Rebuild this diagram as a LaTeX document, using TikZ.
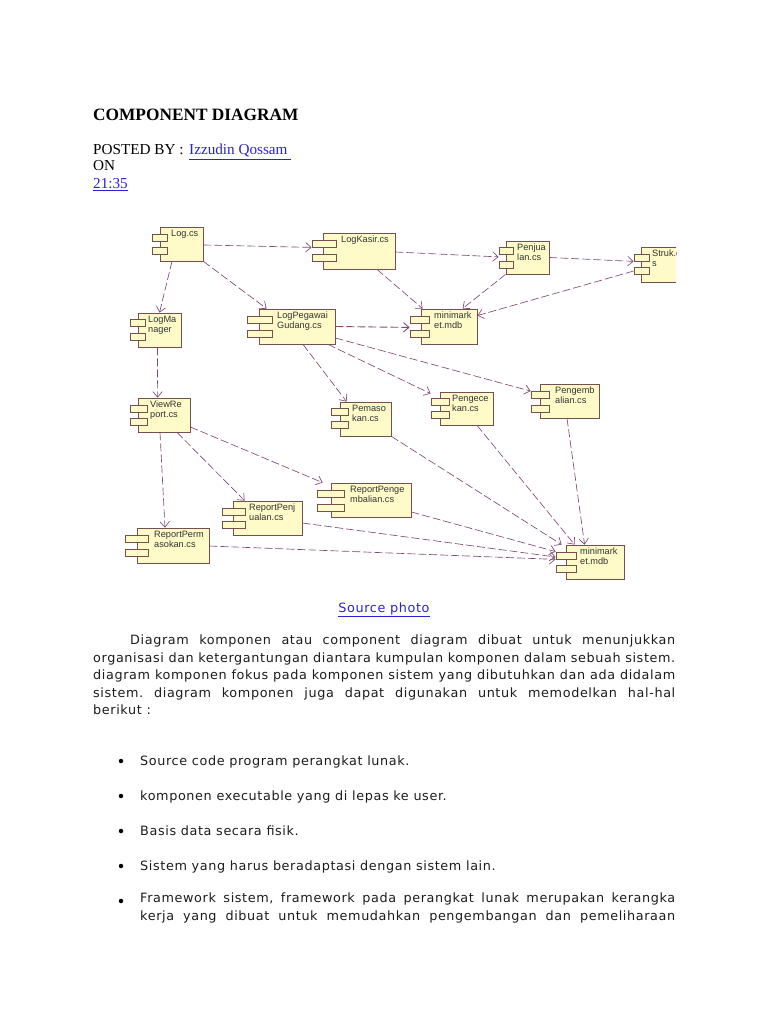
\documentclass[tikz,border=0pt]{standalone}
\usepackage{fontspec}
\setmainfont{Liberation Serif}
\newfontfamily\bodyfont[LetterSpace=4.8]{DejaVu Sans}
\newfontfamily\labelfont{Liberation Sans}
\usetikzlibrary{arrows.meta,positioning}
\definecolor{CompFill}{HTML}{FFFBC9}
\definecolor{CompLine}{HTML}{76504F}
\definecolor{DepLine}{HTML}{7E4A72}
\definecolor{LinkBlue}{HTML}{2A22D8}
\definecolor{BodyText}{HTML}{1C1C1C}
\begin{document}
\begin{tikzpicture}[x=1pt,y=-1pt,
  comp/.style={draw=CompLine,fill=CompFill,line width=0.8pt,inner sep=0pt},
  tab/.style={comp,minimum height=7pt},
  complabel/.style={anchor=north west,inner sep=0pt,align=left,text=black!80,font=\labelfont\fontsize{9.2}{10.5}\selectfont},
  dep/.style={-{Straight Barb[length=5.5pt,width=9.5pt]},line width=0.65pt,color=DepLine,dash pattern=on 8pt off 3pt},
  heading/.style={anchor=base west,inner sep=0pt,font=\fontsize{15.2}{16}\selectfont},
  link/.style={heading,text=LinkBlue},
  bodytxt/.style={anchor=north west,inner sep=0pt,text width=582pt,align=justify,text=BodyText,font=\bodyfont\fontsize{12.8}{17.5}\selectfont\frenchspacing},
  dot/.style={circle,fill=black,inner sep=0pt,minimum size=4.5pt}
]
\useasboundingbox (0,0) rectangle (768,1024);
% page header
\node[heading,font=\bfseries\fontsize{17.3}{18}\selectfont] (title) at (93,121) {COMPONENT DIAGRAM};
\node[heading] (posted) at (93,155) {POSTED BY :};
\node[link] (author) at (189,155) {\underline{Izzudin Qossam\ }};
\node[heading] (on) at (93,171) {ON};
\node[link] (time) at (93,189) {\underline{21:35}};
% components
\begin{scope}
\clip (0,200) rectangle (676,590);
\foreach \nm/\xa/\ya/\xb/\yb/\xt/\wt/\ta/\tb/\xl/\txt in {
  logcs/160/227/203/261/152/15/237.5/251/171/{Log.cs},
  logkasir/323/233/395/269/312/24/243.5/257.5/341/{LogKasir.cs},
  logman/138/313/181/347/130/15/323/336.5/148/{LogMa\\nager},
  logpeg/259/309/335/344/247/25/319.5/333.5/277/{LogPegawai\\Gudang.cs},
  mma/421/309/477/344/410/19/319.5/333.5/434/{minimark\\et.mdb},
  penj/506/241/549/274/499/14/251/265/517/{Penjua\\lan.cs},
  struk/641/247/690/282/634/15/257.5/271/652/{Struk.c\\s},
  view/138/398/190/432/130/17/408.5/421.5/150/{ViewRe\\port.cs},
  perm/340/402/391/436/331/17/412/425/352/{Pemaso\\kan.cs},
  pengc/440/392/493/425/431/18/401.5/415/452/{Pengece\\kan.cs},
  pengb/540/384/599/418/531/18/395/408.5/555/{Pengemb\\alian.cs},
  rpeng/331/483/411/517/317/27/493.5/507.5/350/{ReportPenge\\mbalian.cs},
  rpenj/233/501/302/535/222/23/511.5/525/249/{ReportPenj\\ualan.cs},
  rperm/137/528/209/563/125/23/538.5/552.5/154/{ReportPerm\\asokan.cs},
  mmb/566/545/624/579/556/20/555.5/569/580/{minimark\\et.mdb}}
{
  \node[comp,minimum width={(\xb-\xa)*1pt},minimum height={(\yb-\ya)*1pt}] (\nm) at ({(\xa+\xb)/2},{(\ya+\yb)/2}) {};
  \node[tab,minimum width={\wt*1pt}] (\nm-a) at ({\xt+\wt/2},\ta) {};
  \node[tab,minimum width={\wt*1pt}] (\nm-b) at ({\xt+\wt/2},\tb) {};
  \node[complabel] (\nm-t) at (\xl,{\ya+2.5}) {\txt};
}
\end{scope}
% dependencies
\draw[dep] ([yshift=-1pt]logcs.east)--(logkasir-a.south west);
\draw[dep] ([xshift=-9.5pt]logcs.south)--(logman.north);
\draw[dep] (logcs.south east)--([xshift=8pt]logpeg.north west);
\draw[dep] ([xshift=-2pt]logman.south)--([xshift=20pt]view.north west);
\draw[dep] ([xshift=18pt]logkasir.south)--([xshift=2pt]mma.north west);
\draw[dep] ([yshift=-1pt]logkasir.east)--([yshift=-2pt]penj-a.south west);
\draw[dep] (penj.east)--(struk-a.south west);
\draw[dep] (penj.south west)--([xshift=42pt]mma.north west);
\draw[dep] (struk-b.west)--([yshift=-7pt]mma.north east);
\draw[dep,line width=0.9pt] (logpeg.east)--([yshift=-4pt]mma-a.south west);
\draw[dep] ([xshift=6pt]logpeg.south)--([xshift=7pt]perm.north west);
\draw[dep] ([xshift=31pt]logpeg.south)--([yshift=4pt]pengc-a.north west);
\draw[dep] ([yshift=-11.5pt]logpeg.east)--(pengb-a.north west);
\draw[dep] ([xshift=-4pt]view.south)--([xshift=-8pt]rperm.north);
\draw[dep] ([xshift=13pt]view.south)--([xshift=12pt]rpenj.north west);
\draw[dep] ([yshift=-12pt]view.east)--([xshift=-8pt]rpeng.north west);
\draw[dep] (perm.south east)--([xshift=-4pt]mmb.north west);
\draw[dep] ([xshift=10.5pt]pengc.south)--([xshift=9pt]mmb.north west);
\draw[dep] ([xshift=-2.5pt]pengb.south)--([xshift=19pt]mmb.north west);
\draw[dep] ([yshift=-12pt]rpeng.east)--(mmb-a.north west);
\draw[dep] ([yshift=-5pt]rpenj.east)--([yshift=-1.5pt]mmb-a.west);
\draw[dep] ([yshift=-0.5pt]rperm.east)--(mmb-a.south west);
% body text
\node[link,anchor=base,font=\bodyfont\fontsize{12.8}{16}\selectfont] (source) at (384,612) {\underline{Source photo}};
\node[bodytxt] (intro) at (93,635) {\hspace*{37pt}Diagram komponen atau component diagram dibuat untuk menunjukkan\linebreak organisasi dan ketergantungan diantara kumpulan komponen dalam sebuah sistem.\linebreak diagram komponen fokus pada komponen sistem yang dibutuhkan dan ada didalam\linebreak sistem. diagram komponen juga dapat digunakan untuk memodelkan hal-hal\linebreak berikut :};
\foreach \nm/\yy/\txt in {one/761/Source code program perangkat lunak.,two/796/komponen executable yang di lepas ke user.,three/831/Basis data secara fisik.,four/866/Sistem yang harus beradaptasi dengan sistem lain.}
{
  \node[dot] (dot-\nm) at (121,\yy) {};
  \node[bodytxt,anchor=base west,text width=535pt] (item-\nm) at (140,{\yy+4.5}) {\txt};
}
\node[dot] (dot-five) at (121,901) {};
\node[bodytxt,text width=535pt] (item-five) at (140,893) {\parfillskip=0pt Framework sistem, framework pada perangkat lunak merupakan kerangka\linebreak kerja yang dibuat untuk memudahkan pengembangan dan pemeliharaan\par};
\end{tikzpicture}
\end{document}
